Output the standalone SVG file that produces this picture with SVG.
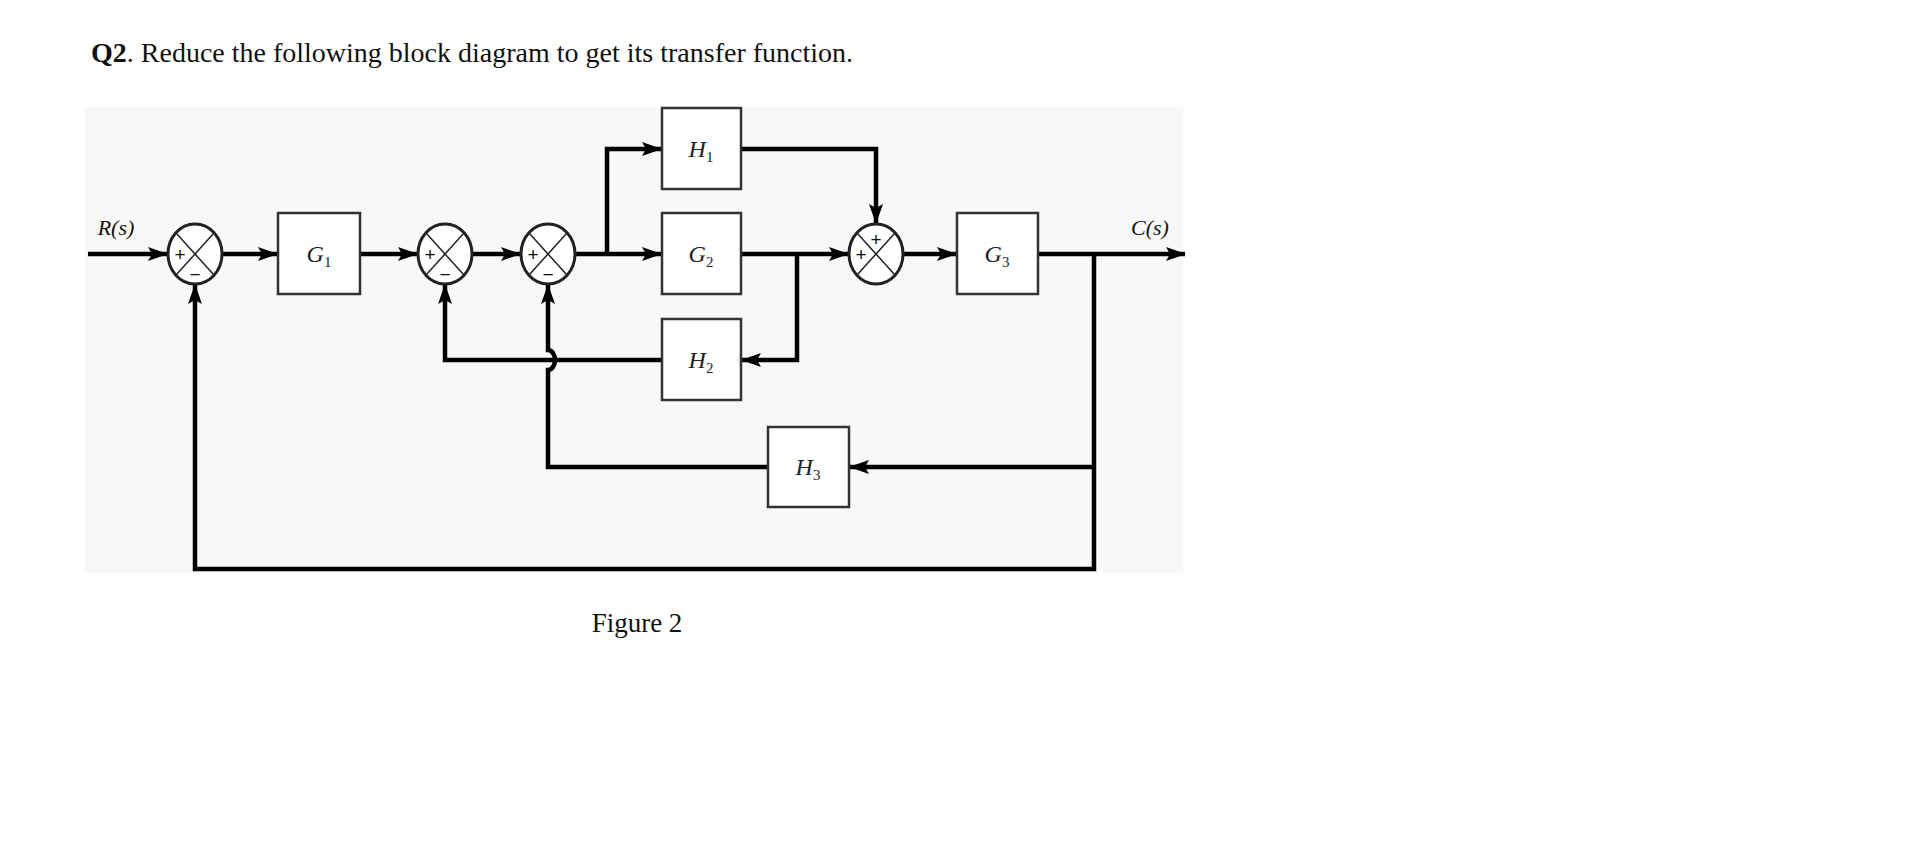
<svg xmlns="http://www.w3.org/2000/svg" width="1912" height="862" viewBox="0 0 1912 862">
<style>
.t{font-family:"Liberation Serif",serif;fill:#111}
.blk rect{fill:#fff;stroke:#333;stroke-width:2.5}
.blk text{font-family:"Liberation Serif",serif;font-style:italic;font-size:24px;text-anchor:middle;fill:#222}
.sum ellipse{fill:#fff;stroke:#222;stroke-width:3}
.sum line{stroke:#222;stroke-width:1.5}
.sum text{font-family:"Liberation Sans",sans-serif;font-size:19px;text-anchor:middle;fill:#111}
#wires path{fill:none;stroke:#000;stroke-width:4.5}
</style>
<defs>
<marker id="ar" markerWidth="20" markerHeight="14" refX="19" refY="7" orient="auto" markerUnits="userSpaceOnUse">
<path d="M0,0 L20,7 L0,14 L4,7 Z" fill="#000"/>
</marker>
</defs>
<rect width="1912" height="862" fill="#fff"/>
<text class="t" x="91" y="62" font-size="28"><tspan font-weight="bold">Q2</tspan>. Reduce the following block diagram to get its transfer function.</text>
<rect x="85" y="107" width="1098" height="466" fill="#f8f8f8"/>
<g id="wires">
<path d="M88,254 H167" marker-end="url(#ar)"/>
<path d="M222,254 H277" marker-end="url(#ar)"/>
<path d="M361,254 H417" marker-end="url(#ar)"/>
<path d="M472,254 H520" marker-end="url(#ar)"/>
<path d="M575,254 H661" marker-end="url(#ar)"/>
<path d="M607,254 V149 H661" marker-end="url(#ar)"/>
<path d="M742,149 H876 V223" marker-end="url(#ar)"/>
<path d="M742,254 H848" marker-end="url(#ar)"/>
<path d="M797,254 V360 H742" marker-end="url(#ar)"/>
<path d="M903,254 H956" marker-end="url(#ar)"/>
<path d="M1039,254 H1185" marker-end="url(#ar)"/>
<path d="M1094,254 V569 H195 V285" marker-end="url(#ar)"/>
<path d="M1094,467 H850" marker-end="url(#ar)"/>
<path d="M662,360 H445 V285" marker-end="url(#ar)"/>
<path d="M768,467 H548 V370 A7,10 0 0 0 548,350 V285" marker-end="url(#ar)"/>
</g>
<g id="sum1" class="sum"><ellipse cx="195" cy="254" rx="27" ry="30"/><line x1="176" y1="233" x2="214" y2="275"/><line x1="214" y1="233" x2="176" y2="275"/><text x="180" y="261">+</text><text x="195" y="281">−</text></g>
<g id="sum2" class="sum"><ellipse cx="445" cy="254" rx="27" ry="30"/><line x1="426" y1="233" x2="464" y2="275"/><line x1="464" y1="233" x2="426" y2="275"/><text x="430" y="261">+</text><text x="445" y="281">−</text></g>
<g id="sum3" class="sum"><ellipse cx="548" cy="254" rx="27" ry="30"/><line x1="529" y1="233" x2="567" y2="275"/><line x1="567" y1="233" x2="529" y2="275"/><text x="533" y="261">+</text><text x="548" y="281">−</text></g>
<g id="sum4" class="sum"><ellipse cx="876" cy="254" rx="27" ry="30"/><line x1="857" y1="233" x2="895" y2="275"/><line x1="895" y1="233" x2="857" y2="275"/><text x="876" y="246">+</text><text x="861" y="261">+</text></g>
<g id="G1" class="blk"><rect x="278" y="213" width="82" height="81"/><text x="319" y="262">G<tspan font-size="15" font-style="normal" dy="5">1</tspan></text></g>
<g id="H1" class="blk"><rect x="662" y="108" width="79" height="81"/><text x="701" y="157">H<tspan font-size="15" font-style="normal" dy="5">1</tspan></text></g>
<g id="G2" class="blk"><rect x="662" y="213" width="79" height="81"/><text x="701" y="262">G<tspan font-size="15" font-style="normal" dy="5">2</tspan></text></g>
<g id="H2" class="blk"><rect x="662" y="319" width="79" height="81"/><text x="701" y="368">H<tspan font-size="15" font-style="normal" dy="5">2</tspan></text></g>
<g id="G3" class="blk"><rect x="957" y="213" width="81" height="81"/><text x="997" y="262">G<tspan font-size="15" font-style="normal" dy="5">3</tspan></text></g>
<g id="H3" class="blk"><rect x="768" y="427" width="81" height="80"/><text x="808" y="475">H<tspan font-size="15" font-style="normal" dy="5">3</tspan></text></g>
<text class="t" x="116" y="235" font-size="22" text-anchor="middle" font-style="italic">R(s)</text>
<text class="t" x="1150" y="235" font-size="22" text-anchor="middle" font-style="italic">C(s)</text>
<text class="t" x="637" y="632" font-size="27" text-anchor="middle">Figure 2</text>
</svg>
